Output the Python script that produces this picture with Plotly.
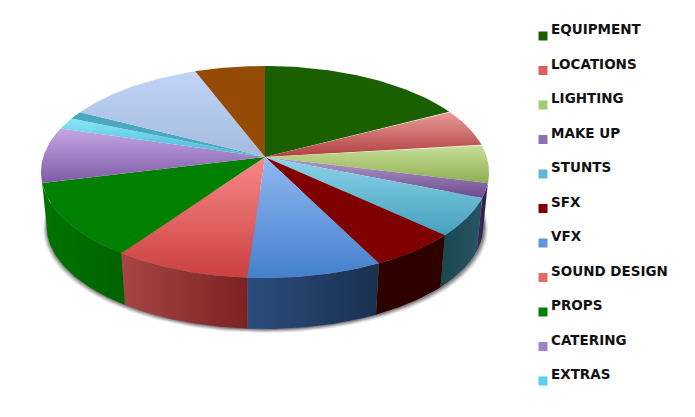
import numpy as np
import plotly.graph_objects as go

# slices clockwise from 12 o'clock, share of the whole pie in percent
# the legend is cut off in the original, last three slices have no visible label
categories = ['EQUIPMENT', 'LOCATIONS', 'LIGHTING', 'MAKE UP', 'STUNTS', 'SFX', 'VFX',
              'SOUND DESIGN', 'PROPS', 'CATERING', 'EXTRAS']
values = [17.3, 5.8, 5.8, 2.2, 5.8, 5.7, 8.5, 8.6, 11.4, 8.5, 1.8, 1.2, 11.6, 5.8]

legend_colors = ['#1a6000', '#d86060', '#a8cc70', '#9070b0', '#60b8d8', '#800000', '#6095e0',
                 '#e86868', '#008000', '#a080c8', '#58d0ee']
top_light = ['#1a6000', '#ea9c9c', '#c8e09a', '#b39cc8', '#8cd4ea', '#800000', '#8fb8f2',
             '#f88888', '#008000', '#c4a6e4', '#8ae6f5', '#4aa8c0', '#c0d4f6', '#954a05']
top_dark = ['#1a6000', '#b04040', '#8fae50', '#6b4a90', '#45a0bd', '#800000', '#4480cc',
            '#cc4040', '#008000', '#7f5aa5', '#45b8d6', '#4aa8c0', '#a4bce0', '#954a05']
side_left = ['#1a6000', '#8a3030', '#4a5a20', '#3a2a5a', '#17464f', '#2e0000', '#2a4d7c',
             '#a84545', '#007400', '#5a3a80', '#2a7a90', '#2a6a80', '#6a80a0', '#603000']
side_right = ['#1a6000', '#8a3030', '#4a5a20', '#2a2050', '#2a5565', '#2e0000', '#1a3050',
              '#7a2222', '#006200', '#5a3a80', '#2a7a90', '#2a6a80', '#6a80a0', '#603000']

# perspective of the pie disc in page pixels
CX, CY = 265, 157
R, H, K = 221.8, 103.9, 0.1415
DEPTH, SHRINK = 54, 0.975
SIDE_FROM, SIDE_TO = 98, 262


def top_xy(deg):
    a = np.radians(deg)
    den = 1 + K * np.cos(a)
    return CX + R * np.sin(a) / den, CY - H * np.cos(a) / den


def bottom_xy(deg):
    x, y = top_xy(deg)
    return CX + (x - CX) * SHRINK, CY + (y - CY) * SHRINK + DEPTH


fig = go.Figure()

# soft shadow below the disc
ring = np.linspace(SIDE_FROM - 20, SIDE_TO + 20, 120)
for grow, alpha in [(4, 0.1), (3, 0.16), (2, 0.25), (1, 0.35)]:
    bx, by = bottom_xy(ring)
    bx = CX + (bx - CX) * (1 + grow / 220) + 0.5
    by = by + grow
    fig.add_trace(go.Scatter(x=bx, y=by, mode='lines', fill='toself', line_width=0,
                             fillcolor=f'rgba(60,60,60,{alpha})', hoverinfo='skip'))

edges = np.concatenate([[0], np.cumsum(values)])
edges = edges / edges[-1] * 360

# sides first, the top surfaces sit over them
for i in range(len(values)):
    start, end = max(edges[i], SIDE_FROM), min(edges[i + 1], SIDE_TO)
    if end <= start:
        continue
    arc = np.linspace(start, end, 40)
    tx, ty = top_xy(arc)
    bx, by = bottom_xy(arc)
    xs = np.concatenate([tx, bx[::-1], tx[:1]])
    ys = np.concatenate([ty, by[::-1], ty[:1]])
    fig.add_trace(go.Scatter(
        x=xs, y=ys, mode='lines', fill='toself', line_width=0, hoverinfo='skip',
        fillgradient=dict(type='horizontal', start=xs.min(), stop=xs.max(),
                          colorscale=[[0, side_left[i]], [1, side_right[i]]])))

for i in range(len(values)):
    arc = np.linspace(edges[i], edges[i + 1], 60)
    ax, ay = top_xy(arc)
    xs = np.concatenate([[CX], ax, [CX]])
    ys = np.concatenate([[CY], ay, [CY]])
    fig.add_trace(go.Scatter(
        x=xs, y=ys, mode='lines', fill='toself', line_width=0, hoverinfo='skip',
        fillgradient=dict(type='vertical', start=ys.min(), stop=ys.max(),
                          colorscale=[[0, top_light[i]], [1, top_dark[i]]])))

# legend, spaced the way the original is
rows = 36 + 34.5 * np.arange(len(categories))
fig.add_trace(go.Scatter(x=[543] * len(categories), y=rows, mode='markers', hoverinfo='skip',
                         marker=dict(symbol='square', size=9, color=legend_colors,
                                     line=dict(width=0))))
for name, row in zip(categories, rows):
    fig.add_annotation(x=551, y=row - 6.7, text=name, showarrow=False, xanchor='left',
                       yanchor='middle', xref='x', yref='y', borderpad=0, borderwidth=0,
                       font=dict(family='DejaVu Sans', size=13.5, color='#111111', weight='bold'))

fig.update_layout(
    width=695, height=417, margin=dict(l=0, r=0, t=0, b=0),
    paper_bgcolor='white', plot_bgcolor='white', showlegend=False,
    xaxis=dict(range=[0, 695], visible=False, fixedrange=True),
    yaxis=dict(range=[417, 0], visible=False, fixedrange=True),
)
# the page body has a default margin that would push the figure off by 8px
fig.write_html("out.html", config={'displayModeBar': False},
               post_script="document.body.style.margin='0';document.body.style.overflow='hidden';")
